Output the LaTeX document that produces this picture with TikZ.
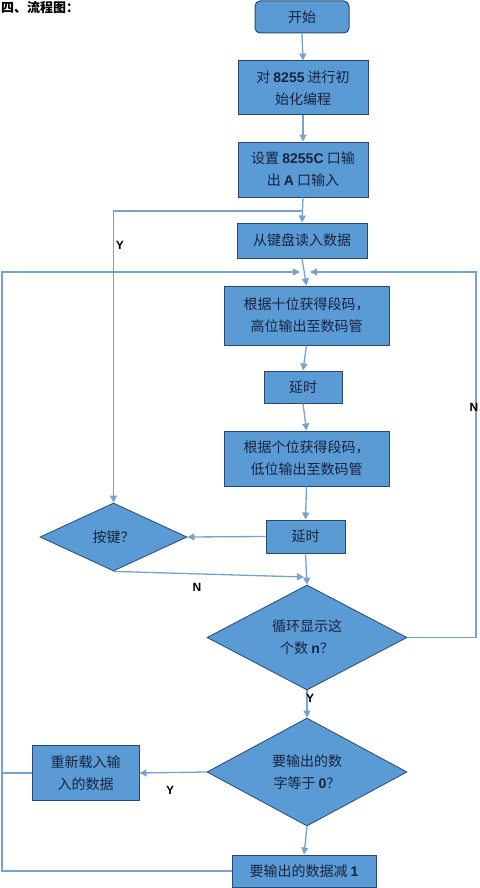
\documentclass[tikz,border=0pt]{standalone}
\usepackage{fontspec}
\setmainfont{Noto Sans CJK SC}
\newfontfamily\lat{Liberation Sans}
\usetikzlibrary{shapes.geometric,arrows.meta,calc}
\definecolor{boxfill}{RGB}{91,155,213}
\definecolor{boxline}{RGB}{40,72,115}
\definecolor{conn}{RGB}{120,162,204}
\definecolor{txt}{RGB}{25,35,60}
\newcommand{\num}[1]{{\lat\bfseries #1}}
\tikzset{
  x=1pt, y=-1pt,
  every node/.style={text=txt, font=\fontsize{14}{22}\selectfont},
  procbox/.style={draw=boxline, fill=boxfill, line width=1pt, rectangle, align=center, inner sep=0pt},
  decbox/.style={draw=boxline, fill=boxfill, line width=0.8pt, diamond, align=center, inner sep=0pt},
  conline/.style={draw=conn, line width=1.3pt},
  arr/.style={conline, -{Triangle[width=7pt,length=7pt]}},
  lbl/.style={font=\lat\bfseries\fontsize{12}{14}\selectfont, text=black}
}
\begin{document}
\begin{tikzpicture}
\useasboundingbox (0,0) rectangle (479,888);
\node[anchor=north west, inner sep=0pt, font=\bfseries\fontsize{13}{15}\selectfont, text=black] (title) at (1,1) {四、流程图：};

\node[procbox, rounded corners=5pt, minimum width=94, minimum height=32] (start) at (302,17) {开始};
\node[procbox, minimum width=130, minimum height=54] (b1) at (303,88) {对 \num{8255} 进行初\\始化编程};
\node[procbox, minimum width=130, minimum height=55] (b2) at (303,169.5) {设置 \num{8255C} 口输\\出 \num{A} 口输入};
\node[procbox, minimum width=130, minimum height=35] (b3) at (302,240.5) {从键盘读入数据};
\node[procbox, minimum width=165, minimum height=59] (b4) at (306.5,315.5) {根据十位获得段码，\\ 高位输出至数码管};
\node[procbox, minimum width=78, minimum height=32] (t1) at (303,387) {延时};
\node[procbox, minimum width=165, minimum height=55] (b5) at (306.5,458.5) {根据个位获得段码，\\ 低位输出至数码管};
\node[procbox, minimum width=79, minimum height=33] (t2) at (305.5,536.5) {延时};
\node[decbox, minimum width=147, minimum height=68] (key) at (113.5,537) {按键？};
\node[decbox, minimum width=200, minimum height=101] (loop) at (307,637.5) {循环显示这\\个数 \num{n}？};
\node[decbox, minimum width=200, minimum height=108] (zero) at (307,772) {要输出的数\\字等于 \num{0}？};
\node[procbox, minimum width=107, minimum height=55] (reload) at (85.5,773) {重新载入输\\入的数据};
\node[procbox, minimum width=144, minimum height=32] (dec) at (304,871) {要输出的数据减 \num{1}};

\coordinate (yj) at (303,211);
\coordinate (lj) at (300,272);
\coordinate (rj) at (310,272);
\coordinate (lcorner) at (2,272);
\coordinate (rcorner) at (476,272);
\coordinate (mj) at (304,577);

\draw[arr] (start.south) -- (b1.north);
\draw[arr] (b1.south) -- (b2.north);
\draw[arr] (b2.south) -- (b3.north);
\draw[arr] (yj) -| (key.north);
\draw[arr] (b3.south) -- (b4.north);
\draw[arr] (dec.west) -| (lcorner) -- (lj);
\draw[conline] (reload.west) -- (reload.west -| lcorner);
\draw[arr] (loop.east) -| (rcorner) -- (rj);
\draw[arr] (b4.south) -- (t1.north);
\draw[arr] (t1.south) -- (b5.north);
\draw[arr] (b5.south) -- (t2.north);
\draw[arr] (t2.south) -- (loop.north);
\draw[arr] (t2.west) -- (key.east);
\draw[arr] (key.south) -- (mj);
\draw[arr] (loop.south) -- (zero.north);
\draw[arr] (zero.west) -- (reload.east);
\draw[arr] (zero.south) -- (dec.north);

\node[lbl] (ly1) at (120,245) {Y};
\node[lbl] (ln1) at (197,587) {N};
\node[lbl] (ln2) at (474,407) {N};
\node[lbl] (ly2) at (310,698) {Y};
\node[lbl] (ly3) at (170,790) {Y};
\end{tikzpicture}
\end{document}
